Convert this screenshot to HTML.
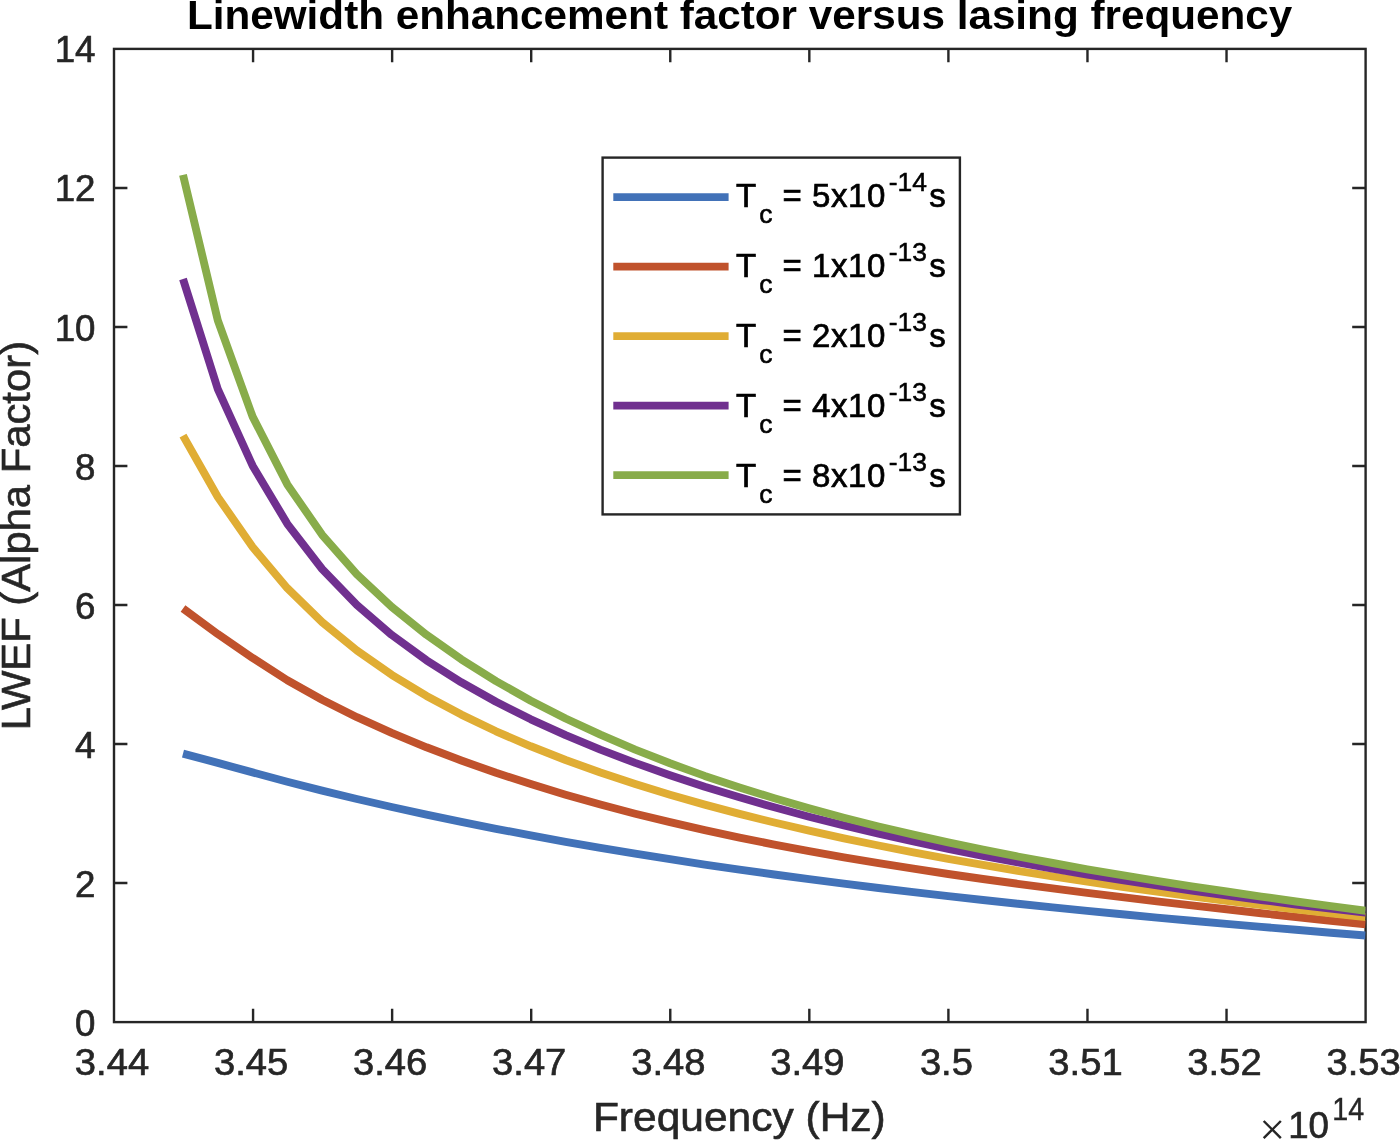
<!DOCTYPE html>
<html lang="en">
<head>
<meta charset="utf-8">
<title>Linewidth enhancement factor versus lasing frequency</title>
<style>
html,body{margin:0;padding:0;background:#fff;}
body{width:1400px;height:1140px;position:relative;overflow:hidden;font-family:"Liberation Sans",Arial,Helvetica,sans-serif;}
svg text{font-family:"Liberation Sans",Arial,Helvetica,sans-serif;}
.tk{font-size:36.7px;fill:#262626;stroke:#262626;stroke-width:0.65px;}
.ex{font-size:31px;fill:#262626;stroke:#262626;stroke-width:0.4px;}
.mx{font-family:"Noto Sans CJK SC","Liberation Sans",sans-serif;font-weight:500;font-size:29px;fill:#262626;}
.lb{font-size:40.3px;fill:#262626;stroke:#262626;stroke-width:0.6px;}
.tt{font-size:40.3px;font-weight:bold;fill:#000;}
.lg{font-size:33px;fill:#000;stroke:#000;stroke-width:0.7px;}
.lgs{font-size:26.4px;fill:#000;stroke:#000;stroke-width:0.55px;}
</style>
</head>
<body>
<svg width="1400" height="1140" viewBox="0 0 1400 1140" style="position:absolute;left:0;top:0">
<rect x="114.0" y="48.9" width="1251.6" height="973.2" fill="#fff" stroke="#262626" stroke-width="2.4"/>
<path d="M253.07 1022.1 v-13.4 M253.07 48.9 v13.4 M392.13 1022.1 v-13.4 M392.13 48.9 v13.4 M531.20 1022.1 v-13.4 M531.20 48.9 v13.4 M670.27 1022.1 v-13.4 M670.27 48.9 v13.4 M809.33 1022.1 v-13.4 M809.33 48.9 v13.4 M948.40 1022.1 v-13.4 M948.40 48.9 v13.4 M1087.47 1022.1 v-13.4 M1087.47 48.9 v13.4 M1226.53 1022.1 v-13.4 M1226.53 48.9 v13.4 M114.0 883.07 h13.4 M1365.6 883.07 h-13.4 M114.0 744.04 h13.4 M1365.6 744.04 h-13.4 M114.0 605.01 h13.4 M1365.6 605.01 h-13.4 M114.0 465.99 h13.4 M1365.6 465.99 h-13.4 M114.0 326.96 h13.4 M1365.6 326.96 h-13.4 M114.0 187.93 h13.4 M1365.6 187.93 h-13.4" stroke="#262626" stroke-width="2.4" fill="none"/>
<clipPath id="cp"><rect x="114.0" y="48.9" width="1251.6" height="973.2"/></clipPath>
<g clip-path="url(#cp)" fill="none" stroke-width="7.9" stroke-linejoin="round" stroke-linecap="butt">
<polyline points="183.0,753.6 217.8,762.9 252.6,772.4 287.3,781.8 322.1,790.6 356.9,799.0 391.7,807.0 426.5,814.6 461.3,821.8 496.0,828.8 530.8,835.4 565.6,841.8 600.4,847.9 635.2,853.7 670.0,859.2 704.7,864.6 739.5,869.7 774.3,874.5 809.1,879.2 843.9,883.7 878.6,888.0 913.4,892.2 948.2,896.2 983.0,900.0 1017.8,903.8 1052.6,907.4 1087.3,910.9 1122.1,914.3 1156.9,917.6 1191.7,920.7 1226.5,923.9 1261.3,926.9 1296.0,929.8 1330.8,932.7 1365.6,935.5" stroke="#4272B8"/>
<polyline points="183.0,608.5 217.8,634.1 252.6,657.9 287.3,680.2 322.1,699.8 356.9,717.2 391.7,732.9 426.5,747.3 461.3,760.5 496.0,772.8 530.8,784.1 565.6,794.7 600.4,804.5 635.2,813.7 670.0,822.2 704.7,830.2 739.5,837.6 774.3,844.6 809.1,851.2 843.9,857.4 878.6,863.2 913.4,868.7 948.2,874.0 983.0,879.0 1017.8,883.8 1052.6,888.4 1087.3,892.9 1122.1,897.2 1156.9,901.3 1191.7,905.4 1226.5,909.3 1261.3,913.2 1296.0,917.0 1330.8,920.7 1365.6,924.3" stroke="#C0522C"/>
<polyline points="183.0,435.6 217.8,497.0 252.6,547.0 287.3,588.2 322.1,622.1 356.9,650.5 391.7,674.8 426.5,695.9 461.3,714.6 496.0,731.3 530.8,746.3 565.6,760.0 600.4,772.5 635.2,784.0 670.0,794.7 704.7,804.6 739.5,813.9 774.3,822.5 809.1,830.6 843.9,838.3 878.6,845.5 913.4,852.3 948.2,858.8 983.0,864.9 1017.8,870.8 1052.6,876.4 1087.3,881.7 1122.1,886.8 1156.9,891.6 1191.7,896.3 1226.5,900.8 1261.3,905.1 1296.0,909.3 1330.8,913.3 1365.6,917.1" stroke="#E0AD34"/>
<polyline points="183.0,279.0 217.8,389.1 252.6,465.7 287.3,523.8 322.1,569.0 356.9,605.1 391.7,634.9 426.5,660.3 461.3,682.3 496.0,701.8 530.8,719.3 565.6,735.1 600.4,749.6 635.2,762.9 670.0,775.2 704.7,786.7 739.5,797.3 774.3,807.3 809.1,816.7 843.9,825.4 878.6,833.7 913.4,841.5 948.2,848.8 983.0,855.8 1017.8,862.3 1052.6,868.6 1087.3,874.5 1122.1,880.1 1156.9,885.4 1191.7,890.5 1226.5,895.4 1261.3,900.0 1296.0,904.5 1330.8,908.7 1365.6,912.7" stroke="#70308F"/>
<polyline points="183.0,174.9 217.8,320.3 252.6,416.6 287.3,484.4 322.1,534.8 356.9,574.3 391.7,606.9 426.5,634.8 461.3,659.3 496.0,681.1 530.8,700.7 565.6,718.5 600.4,734.7 635.2,749.6 670.0,763.3 704.7,775.9 739.5,787.5 774.3,798.3 809.1,808.4 843.9,817.7 878.6,826.5 913.4,834.7 948.2,842.4 983.0,849.6 1017.8,856.5 1052.6,863.0 1087.3,869.3 1122.1,875.2 1156.9,880.9 1191.7,886.3 1226.5,891.5 1261.3,896.6 1296.0,901.5 1330.8,906.2 1365.6,910.8" stroke="#88AC4A"/>
</g>
<rect x="602.6" y="157.6" width="357.29999999999995" height="356.79999999999995" fill="#fff" stroke="#262626" stroke-width="2.4"/>
<line x1="613.3" x2="728.6" y1="197.1" y2="197.1" stroke="#4272B8" stroke-width="7.9"/>
<text class="lg"><tspan x="735.9" y="206.7">T</tspan><tspan class="lgs" x="759.3" y="223.2">c</tspan><tspan x="773.4" y="206.7"> = </tspan><tspan x="812.0" y="206.7" style="letter-spacing:0.6px">5x10</tspan><tspan class="lgs" x="888.7" y="191.3">-14</tspan><tspan x="929.3" y="206.7">s</tspan></text>
<line x1="613.3" x2="728.6" y1="266.6" y2="266.6" stroke="#C0522C" stroke-width="7.9"/>
<text class="lg"><tspan x="735.9" y="276.6">T</tspan><tspan class="lgs" x="759.3" y="293.1">c</tspan><tspan x="773.4" y="276.6"> = </tspan><tspan x="812.0" y="276.6" style="letter-spacing:0.6px">1x10</tspan><tspan class="lgs" x="888.7" y="261.2">-13</tspan><tspan x="929.3" y="276.6">s</tspan></text>
<line x1="613.3" x2="728.6" y1="336.1" y2="336.1" stroke="#E0AD34" stroke-width="7.9"/>
<text class="lg"><tspan x="735.9" y="346.6">T</tspan><tspan class="lgs" x="759.3" y="363.1">c</tspan><tspan x="773.4" y="346.6"> = </tspan><tspan x="812.0" y="346.6" style="letter-spacing:0.6px">2x10</tspan><tspan class="lgs" x="888.7" y="331.2">-13</tspan><tspan x="929.3" y="346.6">s</tspan></text>
<line x1="613.3" x2="728.6" y1="405.6" y2="405.6" stroke="#70308F" stroke-width="7.9"/>
<text class="lg"><tspan x="735.9" y="416.6">T</tspan><tspan class="lgs" x="759.3" y="433.1">c</tspan><tspan x="773.4" y="416.6"> = </tspan><tspan x="812.0" y="416.6" style="letter-spacing:0.6px">4x10</tspan><tspan class="lgs" x="888.7" y="401.2">-13</tspan><tspan x="929.3" y="416.6">s</tspan></text>
<line x1="613.3" x2="728.6" y1="475.1" y2="475.1" stroke="#88AC4A" stroke-width="7.9"/>
<text class="lg"><tspan x="735.9" y="486.5">T</tspan><tspan class="lgs" x="759.3" y="503.0">c</tspan><tspan x="773.4" y="486.5"> = </tspan><tspan x="812.0" y="486.5" style="letter-spacing:0.6px">8x10</tspan><tspan class="lgs" x="888.7" y="471.1">-13</tspan><tspan x="929.3" y="486.5">s</tspan></text>
<text class="tk" text-anchor="end" x="95.5" y="1035.6">0</text>
<text class="tk" text-anchor="end" x="95.5" y="896.6">2</text>
<text class="tk" text-anchor="end" x="95.5" y="757.5">4</text>
<text class="tk" text-anchor="end" x="95.5" y="618.5">6</text>
<text class="tk" text-anchor="end" x="95.5" y="479.5">8</text>
<text class="tk" text-anchor="end" x="95.5" y="340.5">10</text>
<text class="tk" text-anchor="end" x="95.5" y="201.4">12</text>
<text class="tk" text-anchor="end" x="95.5" y="62.4">14</text>
<text class="tk" text-anchor="middle" transform="translate(112.0 1075.2) scale(1.04 1)">3.44</text>
<text class="tk" text-anchor="middle" transform="translate(251.1 1075.2) scale(1.04 1)">3.45</text>
<text class="tk" text-anchor="middle" transform="translate(390.1 1075.2) scale(1.04 1)">3.46</text>
<text class="tk" text-anchor="middle" transform="translate(529.2 1075.2) scale(1.04 1)">3.47</text>
<text class="tk" text-anchor="middle" transform="translate(668.3 1075.2) scale(1.04 1)">3.48</text>
<text class="tk" text-anchor="middle" transform="translate(807.3 1075.2) scale(1.04 1)">3.49</text>
<text class="tk" text-anchor="middle" transform="translate(946.4 1075.2) scale(1.04 1)">3.5</text>
<text class="tk" text-anchor="middle" transform="translate(1085.5 1075.2) scale(1.04 1)">3.51</text>
<text class="tk" text-anchor="middle" transform="translate(1224.5 1075.2) scale(1.04 1)">3.52</text>
<text class="tk" text-anchor="middle" transform="translate(1363.6 1075.2) scale(1.04 1)">3.53</text>
<text class="mx" x="1257.8" y="1140.6">×</text>
<text class="tk" transform="translate(1288.2 1137.8) scale(1.0 1)">10</text>
<text class="ex" transform="translate(1332.2 1119.8) scale(0.925 1)">14</text>
<text class="lb" text-anchor="middle" transform="translate(739.3 1130.6) scale(1.055 1)">Frequency (Hz)</text>
<text class="lb" text-anchor="middle" transform="translate(30.2 535.6) rotate(-90) scale(1.037 1)">LWEF (Alpha Factor)</text>
<text class="tt" text-anchor="middle" transform="translate(739.6 28.8) scale(1.0485 1)">Linewidth enhancement factor versus lasing frequency</text>
</svg>
</body>
</html>
